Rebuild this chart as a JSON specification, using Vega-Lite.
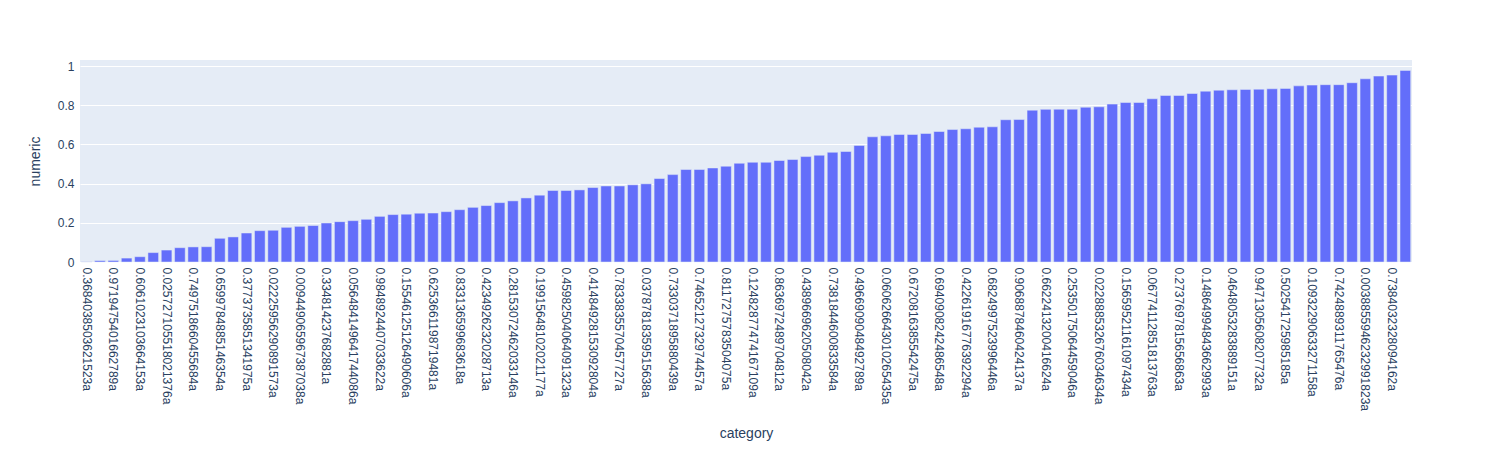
{
  "$schema": "https://vega.github.io/schema/vega-lite/v6.json",
  "width": 1332,
  "height": 202,
  "autosize": {"type": "none"},
  "padding": {"left": 80, "top": 60, "right": 80, "bottom": 188},
  "background": "white",
  "config": {
    "font": "Liberation Sans",
    "view": {"fill": "#E5ECF6", "stroke": null}
  },
  "data": {
    "values": [
      {"category": "0.3684038503621523a", "numeric": 0.001},
      {"category": "0.5128847302917465a", "numeric": 0.007},
      {"category": "0.9719475401662789a", "numeric": 0.008},
      {"category": "0.8841069275531904a", "numeric": 0.020},
      {"category": "0.6061023103664153a", "numeric": 0.027},
      {"category": "0.2049573816620398a", "numeric": 0.048},
      {"category": "0.025727105518021376a", "numeric": 0.061},
      {"category": "0.6397205148839271a", "numeric": 0.073},
      {"category": "0.7497518660455684a", "numeric": 0.077},
      {"category": "0.0917364502283746a", "numeric": 0.078},
      {"category": "0.6599784885146354a", "numeric": 0.121},
      {"category": "0.4472810963357182a", "numeric": 0.128},
      {"category": "0.3773735851341975a", "numeric": 0.148},
      {"category": "0.7765093421186059a", "numeric": 0.160},
      {"category": "0.02225956290891573a", "numeric": 0.162},
      {"category": "0.3180462957704318a", "numeric": 0.177},
      {"category": "0.009449065967387038a", "numeric": 0.182},
      {"category": "0.9536218074493627a", "numeric": 0.186},
      {"category": "0.334814237682881a", "numeric": 0.199},
      {"category": "0.1624937508812043a", "numeric": 0.206},
      {"category": "0.056484149641744086a", "numeric": 0.211},
      {"category": "0.5893401726650917a", "numeric": 0.218},
      {"category": "0.9848924407033622a", "numeric": 0.233},
      {"category": "0.2761549083317726a", "numeric": 0.242},
      {"category": "0.15546125126490606a", "numeric": 0.244},
      {"category": "0.8302715649928134a", "numeric": 0.249},
      {"category": "0.6253661198719481a", "numeric": 0.250},
      {"category": "0.0463829157706285a", "numeric": 0.257},
      {"category": "0.833136599683618a", "numeric": 0.267},
      {"category": "0.6915284730021598a", "numeric": 0.279},
      {"category": "0.4234926232028713a", "numeric": 0.288},
      {"category": "0.3547190628835416a", "numeric": 0.303},
      {"category": "0.28153072462033146a", "numeric": 0.312},
      {"category": "0.9203857164472901a", "numeric": 0.327},
      {"category": "0.19915648102021177a", "numeric": 0.341},
      {"category": "0.1378620495518837a", "numeric": 0.365},
      {"category": "0.45982504064091323a", "numeric": 0.365},
      {"category": "0.5649317082264751a", "numeric": 0.368},
      {"category": "0.41484928153092804a", "numeric": 0.380},
      {"category": "0.7086452391907364a", "numeric": 0.388},
      {"category": "0.7833835570457727a", "numeric": 0.388},
      {"category": "0.2935806147753129a", "numeric": 0.394},
      {"category": "0.03787818359515638a", "numeric": 0.399},
      {"category": "0.8670349215082476a", "numeric": 0.426},
      {"category": "0.7330371895880439a", "numeric": 0.446},
      {"category": "0.0186294753310658a", "numeric": 0.472},
      {"category": "0.7465212732974457a", "numeric": 0.472},
      {"category": "0.4821067395264183a", "numeric": 0.480},
      {"category": "0.8117275783504075a", "numeric": 0.489},
      {"category": "0.6154938206475012a", "numeric": 0.504},
      {"category": "0.12482877474167109a", "numeric": 0.509},
      {"category": "0.3912645078831295a", "numeric": 0.509},
      {"category": "0.8636972489704812a", "numeric": 0.518},
      {"category": "0.9785103642219587a", "numeric": 0.523},
      {"category": "0.4389669620508042a", "numeric": 0.538},
      {"category": "0.1049376285507724a", "numeric": 0.545},
      {"category": "0.7381844600833584a", "numeric": 0.560},
      {"category": "0.5386721940163348a", "numeric": 0.564},
      {"category": "0.4966909048492789a", "numeric": 0.595},
      {"category": "0.7528094613385106a", "numeric": 0.639},
      {"category": "0.060626643010265435a", "numeric": 0.644},
      {"category": "0.2317869504426851a", "numeric": 0.651},
      {"category": "0.6720816385542475a", "numeric": 0.651},
      {"category": "0.8493510276648219a", "numeric": 0.656},
      {"category": "0.6940908242486548a", "numeric": 0.666},
      {"category": "0.0652983147720936a", "numeric": 0.676},
      {"category": "0.42261916776392294a", "numeric": 0.680},
      {"category": "0.4205718396051374a", "numeric": 0.688},
      {"category": "0.6824997523996446a", "numeric": 0.690},
      {"category": "0.6738241095386627a", "numeric": 0.726},
      {"category": "0.9068878460424137a", "numeric": 0.727},
      {"category": "0.3069452817763481a", "numeric": 0.775},
      {"category": "0.6622413200416624a", "numeric": 0.779},
      {"category": "0.9367081524402853a", "numeric": 0.780},
      {"category": "0.25350175064459046a", "numeric": 0.780},
      {"category": "0.1893627450916742a", "numeric": 0.790},
      {"category": "0.022888532676034634a", "numeric": 0.792},
      {"category": "0.5572940368135208a", "numeric": 0.806},
      {"category": "0.15659521161097434a", "numeric": 0.814},
      {"category": "0.7914386205581963a", "numeric": 0.814},
      {"category": "0.06774112851813763a", "numeric": 0.833},
      {"category": "0.2489603178264517a", "numeric": 0.850},
      {"category": "0.2737697815656863a", "numeric": 0.850},
      {"category": "0.8125749630917385a", "numeric": 0.860},
      {"category": "0.14864994843662993a", "numeric": 0.872},
      {"category": "0.0329517864402719a", "numeric": 0.877},
      {"category": "0.4648053283889151a", "numeric": 0.879},
      {"category": "0.4690382751136594a", "numeric": 0.881},
      {"category": "0.9471305608207732a", "numeric": 0.882},
      {"category": "0.6487159023648813a", "numeric": 0.884},
      {"category": "0.502541725985185a", "numeric": 0.886},
      {"category": "0.3325806914275036a", "numeric": 0.899},
      {"category": "0.10932290633271158a", "numeric": 0.903},
      {"category": "0.9052637480134268a", "numeric": 0.905},
      {"category": "0.7424889311765476a", "numeric": 0.905},
      {"category": "0.1716843092557421a", "numeric": 0.915},
      {"category": "0.0038855946232991823a", "numeric": 0.935},
      {"category": "0.5217069346881157a", "numeric": 0.949},
      {"category": "0.7384032328094162a", "numeric": 0.954},
      {"category": "0.7650492813306674a", "numeric": 0.978}
    ]
  },
  "mark": {"type": "bar", "color": "#636EFA", "stroke": "#E5ECF6", "strokeWidth": 0.5},
  "encoding": {
    "x": {
      "field": "category",
      "type": "nominal",
      "sort": null,
      "scale": {"paddingInner": 0.2, "paddingOuter": 0.1},
      "axis": {
        "title": "category",
        "values": [
          "0.3684038503621523a", "0.9719475401662789a", "0.6061023103664153a", "0.025727105518021376a",
          "0.7497518660455684a", "0.6599784885146354a", "0.3773735851341975a", "0.02225956290891573a",
          "0.009449065967387038a", "0.334814237682881a", "0.056484149641744086a", "0.9848924407033622a",
          "0.15546125126490606a", "0.6253661198719481a", "0.833136599683618a", "0.4234926232028713a",
          "0.28153072462033146a", "0.19915648102021177a", "0.45982504064091323a", "0.41484928153092804a",
          "0.7833835570457727a", "0.03787818359515638a", "0.7330371895880439a", "0.7465212732974457a",
          "0.8117275783504075a", "0.12482877474167109a", "0.8636972489704812a", "0.4389669620508042a",
          "0.7381844600833584a", "0.4966909048492789a", "0.060626643010265435a", "0.6720816385542475a",
          "0.6940908242486548a", "0.42261916776392294a", "0.6824997523996446a", "0.9068878460424137a",
          "0.6622413200416624a", "0.25350175064459046a", "0.022888532676034634a", "0.15659521161097434a",
          "0.06774112851813763a", "0.2737697815656863a", "0.14864994843662993a", "0.4648053283889151a",
          "0.9471305608207732a", "0.502541725985185a", "0.10932290633271158a", "0.7424889311765476a",
          "0.0038855946232991823a", "0.7384032328094162a"
        ],
        "labelAngle": 90,
        "labelAlign": "left",
        "labelBaseline": "middle",
        "labelFontSize": 12,
        "labelColor": "#2a3f5f",
        "labelPadding": 5,
        "labelDy": 4,
        "labelOverlap": false,
        "labelLimit": 0,
        "ticks": false,
        "domain": false,
        "titleFontSize": 14,
        "titleFontWeight": "normal",
        "titleColor": "#2a3f5f",
        "titleY": 164
      }
    },
    "y": {
      "field": "numeric",
      "type": "quantitative",
      "scale": {"domain": [0, 1.031], "nice": false},
      "axis": {
        "title": "numeric",
        "values": [0, 0.2, 0.4, 0.6, 0.8, 1],
        "format": "~g",
        "gridColor": "white",
        "gridWidth": 1,
        "ticks": false,
        "domain": false,
        "labelFontSize": 12,
        "labelColor": "#2a3f5f",
        "labelPadding": 6,
        "titleFontSize": 14,
        "titleFontWeight": "normal",
        "titleColor": "#2a3f5f",
        "titlePadding": 15
      }
    }
  }
}
